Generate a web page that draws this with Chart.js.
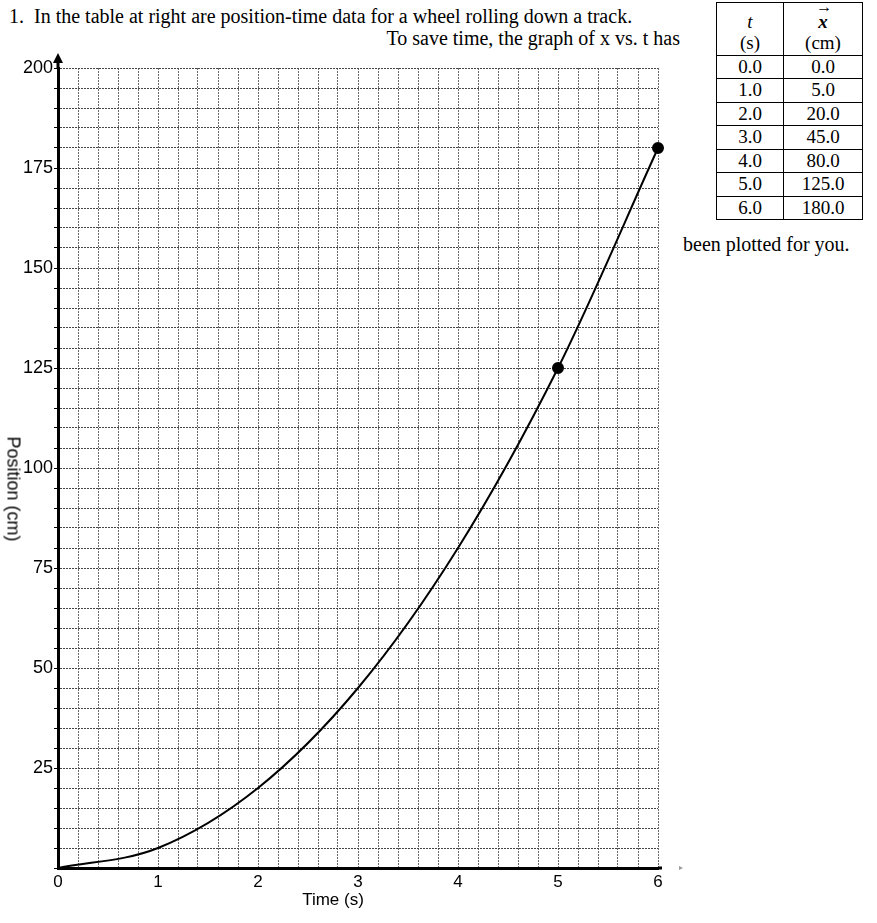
<!DOCTYPE html>
<html>
<head>
<meta charset="utf-8">
<script src="https://cdn.jsdelivr.net/npm/chart.js@4"></script>
<style>
  body { margin: 0; background: #fff; width: 877px; height: 923px; position: relative; overflow: hidden; }
  .serif { font-family: "Liberation Serif", "Times New Roman", serif; font-size: 20px; color: #000; position: absolute; white-space: nowrap; }
  .sans { font-family: "Liberation Sans", Arial, sans-serif; color: #000; position: absolute; white-space: nowrap; }
  #chart-wrap { position: absolute; left: 0; top: 40px; width: 700px; height: 880px; }
  table.datos { position: absolute; left: 716px; top: 2px; border-collapse: collapse; font-family: "Liberation Serif", "Times New Roman", serif; font-size: 19px; }
  table.datos td { border: 1px solid #000; text-align: center; padding: 0; height: 22.5px; line-height: 20px; }
  table.datos td.c1 { width: 66px; }
  table.datos td.c2 { width: 78px; }
  table.datos tr.h1 td { border-bottom: none; height: 29px; vertical-align: bottom; }
  table.datos tr.h2 td { border-top: none; }
  .vec { position: relative; display: inline-block; }
  .vec .flecha { position: absolute; left: -2px; top: -15px; font-size: 16px; font-weight: normal; font-style: normal; }
</style>
</head>
<body>
<div class="serif" style="left:9px; top:5px;">1.&nbsp;&nbsp;In the table at right are position-time data for a wheel rolling down a track.</div>
<div class="serif" style="right:197px; top:27px;">To save time, the graph of x vs. t has</div>
<div class="serif" style="left:683px; top:233px;">been plotted for you.</div>

<table class="datos" id="tabla"></table>

<div id="chart-wrap"><canvas id="grafico" width="700" height="880"></canvas></div>
<div class="sans" style="left:333px; top:900px; font-size:17px; transform: translate(-50%, -50%);">Time (s)</div>
<div class="sans" style="left:13px; top:489px; font-size:18px; transform: translate(-50%, -50%) rotate(90deg);">Position (cm)</div>

<script>
// datos de la tabla: tiempo (s) y posición (cm)
const tiempos = [0.0, 1.0, 2.0, 3.0, 4.0, 5.0, 6.0];
const posiciones = [0.0, 5.0, 20.0, 45.0, 80.0, 125.0, 180.0];
// solo se marcan los dos últimos puntos con un círculo
const puntosMarcados = [false, false, false, false, false, true, true];
// etiquetas de los ejes
const ticksX = [0, 1, 2, 3, 4, 5, 6];
const ticksY = [25, 50, 75, 100, 125, 150, 175, 200];

// tabla de la derecha
const tabla = document.getElementById('tabla');
let filas = '<tr class="h1"><td class="c1"><i>t</i></td><td class="c2"><b><i class="vec">x<span class="flecha">&rarr;</span></i></b></td></tr>';
filas += '<tr class="h2"><td>(s)</td><td>(cm)</td></tr>';
tiempos.forEach((t, i) => {
  filas += `<tr><td>${t.toFixed(1)}</td><td>${posiciones[i].toFixed(1)}</td></tr>`;
});
tabla.innerHTML = filas;

// flechas de los ejes
const flechas = {
  id: 'flechas',
  afterDraw(chart) {
    const { ctx, chartArea } = chart;
    ctx.save();
    ctx.fillStyle = '#000';
    ctx.strokeStyle = '#000';
    ctx.lineWidth = 3;
    ctx.beginPath();
    ctx.moveTo(chartArea.left, chartArea.top);
    ctx.lineTo(chartArea.left, chartArea.top - 8);
    ctx.stroke();
    ctx.beginPath();
    ctx.moveTo(chartArea.left, chartArea.top - 15);
    ctx.lineTo(chartArea.left - 5, chartArea.top - 5);
    ctx.lineTo(chartArea.left + 5, chartArea.top - 5);
    ctx.closePath();
    ctx.fill();
    ctx.beginPath();
    ctx.moveTo(chartArea.right, chartArea.bottom);
    ctx.lineTo(chartArea.right + 4, chartArea.bottom);
    ctx.stroke();
    ctx.fillStyle = '#999';
    ctx.beginPath();
    ctx.moveTo(chartArea.right + 25, chartArea.bottom);
    ctx.lineTo(chartArea.right + 21, chartArea.bottom - 2);
    ctx.lineTo(chartArea.right + 21, chartArea.bottom + 2);
    ctx.closePath();
    ctx.fill();
    ctx.restore();
  }
};

const esEntero = v => Math.abs(v - Math.round(v)) < 1e-6;

new Chart(document.getElementById('grafico').getContext('2d'), {
  type: 'line',
  data: {
    datasets: [{
      data: tiempos.map((t, i) => ({ x: t, y: posiciones[i] })),
      borderColor: '#000',
      borderWidth: 2,
      cubicInterpolationMode: 'monotone',
      pointRadius: puntosMarcados.map(m => m ? 5 : 0),
      pointBackgroundColor: '#000',
      pointBorderColor: '#000',
      clip: false
    }]
  },
  options: {
    responsive: false,
    animation: false,
    devicePixelRatio: 1,
    layout: { padding: { top: 28, right: 42, left: 0, bottom: 0 } },
    plugins: { legend: { display: false }, tooltip: { enabled: false } },
    scales: {
      x: {
        type: 'linear', min: 0, max: 6,
        afterFit: s => { s.height = 52; },
        ticks: {
          stepSize: 0.2, autoSkip: false, maxRotation: 0, padding: 4,
          color: '#000', font: { family: 'Liberation Sans, Arial', size: 17 },
          callback: v => (esEntero(v) && ticksX.includes(Math.round(v))) ? String(Math.round(v)) : ''
        },
        grid: { color: '#6a6a6a', lineWidth: 1, drawTicks: false },
        border: { display: true, color: '#000', width: 3, dash: [2, 1] }
      },
      y: {
        min: 0, max: 200,
        afterFit: s => { s.width = 58; },
        ticks: {
          stepSize: 5, autoSkip: false, padding: 1,
          color: '#000', font: { family: 'Liberation Sans, Arial', size: 18 },
          callback: v => ticksY.includes(Math.round(v)) && esEntero(v) ? String(Math.round(v)) : ''
        },
        grid: { color: '#444', lineWidth: 1, tickLength: 4, tickColor: '#000' },
        border: { display: true, color: '#000', width: 3, dash: [2, 1] }
      }
    }
  },
  plugins: [flechas]
});
</script>
</body>
</html>
